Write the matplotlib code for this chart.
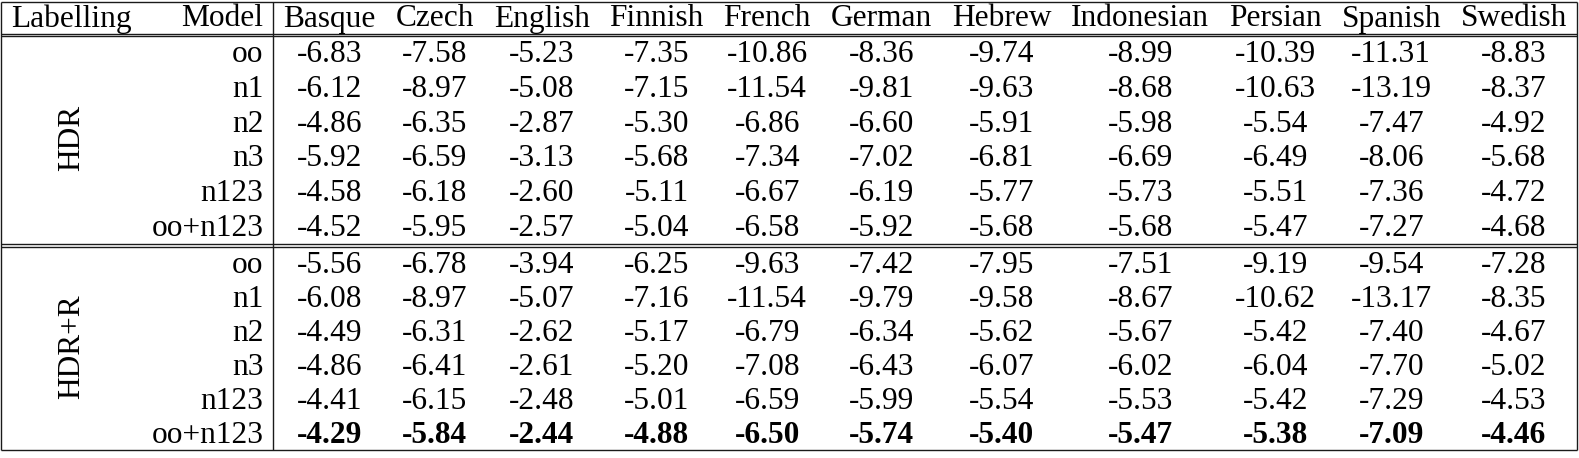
import matplotlib
matplotlib.use('Agg')
import matplotlib.pyplot as plt

# table content
languages = ['Basque', 'Czech', 'English', 'Finnish', 'French', 'German',
             'Hebrew', 'Indonesian', 'Persian', 'Spanish', 'Swedish']
models = ['oo', 'n1', 'n2', 'n3', 'n123', 'oo+n123']
labellings = ['HDR', 'HDR+R']

hdr_scores = [
    [-6.83, -7.58, -5.23, -7.35, -10.86, -8.36, -9.74, -8.99, -10.39, -11.31, -8.83],
    [-6.12, -8.97, -5.08, -7.15, -11.54, -9.81, -9.63, -8.68, -10.63, -13.19, -8.37],
    [-4.86, -6.35, -2.87, -5.30, -6.86, -6.60, -5.91, -5.98, -5.54, -7.47, -4.92],
    [-5.92, -6.59, -3.13, -5.68, -7.34, -7.02, -6.81, -6.69, -6.49, -8.06, -5.68],
    [-4.58, -6.18, -2.60, -5.11, -6.67, -6.19, -5.77, -5.73, -5.51, -7.36, -4.72],
    [-4.52, -5.95, -2.57, -5.04, -6.58, -5.92, -5.68, -5.68, -5.47, -7.27, -4.68],
]
hdr_r_scores = [
    [-5.56, -6.78, -3.94, -6.25, -9.63, -7.42, -7.95, -7.51, -9.19, -9.54, -7.28],
    [-6.08, -8.97, -5.07, -7.16, -11.54, -9.79, -9.58, -8.67, -10.62, -13.17, -8.35],
    [-4.49, -6.31, -2.62, -5.17, -6.79, -6.34, -5.62, -5.67, -5.42, -7.40, -4.67],
    [-4.86, -6.41, -2.61, -5.20, -7.08, -6.43, -6.07, -6.02, -6.04, -7.70, -5.02],
    [-4.41, -6.15, -2.48, -5.01, -6.59, -5.99, -5.54, -5.53, -5.42, -7.29, -4.53],
    [-4.29, -5.84, -2.44, -4.88, -6.50, -5.74, -5.40, -5.47, -5.38, -7.09, -4.46],
]
group_scores = [hdr_scores, hdr_r_scores]

W, H = 1579, 458
FONT = 'Liberation Serif'
FS = 22.6
LINE_C = '#1a1a1a'
LW = 1.0

fig = plt.figure(figsize=(W / 100, H / 100), dpi=100)
ax = fig.add_axes([0, 0, 1, 1])
ax.set_xlim(0, W)
ax.set_ylim(H, 0)
ax.axis('off')
renderer = fig.canvas.get_renderer()


def text_width(s, weight='normal'):
    t = ax.text(0, 0, s, fontsize=FS, family=FONT, weight=weight)
    w = t.get_window_extent(renderer).width
    t.remove()
    return w


# best score per language gets bold
best = [max(g[r][c] for g in group_scores for r in range(len(models)))
        for c in range(len(languages))]

# natural column widths (like a LaTeX tabular)
widths = [text_width('Labelling'),
          max(text_width(m) for m in models + ['Model'])]
for c, lang in enumerate(languages):
    cell_w = [text_width(f'{g[r][c]:.2f}', 'bold') for g in group_scores
              for r in range(len(models))]
    widths.append(max([text_width(lang)] + cell_w))

x_left, x_right = 1.0, 1577.0
pad = (x_right - x_left - sum(widths)) / (2 * len(widths))
edges = [x_left]
for w in widths:
    edges.append(edges[-1] + w + 2 * pad)

# horizontal rules
y_top, y_bottom = 2.0, 450.0
head_rules = (33.5, 36.0)
group_rules = (243.8, 246.5)
for y in (y_top, y_bottom) + head_rules + group_rules:
    ax.plot([x_left, x_right], [y, y], color=LINE_C, lw=LW, solid_capstyle='butt')
for x in (x_left, edges[2], x_right):
    ax.plot([x, x], [y_top, y_bottom], color=LINE_C, lw=LW, solid_capstyle='butt')

# header
hy = 26.5
ax.text(edges[0] + pad, hy, 'Labelling', fontsize=FS, family=FONT, ha='left', va='baseline')
ax.text(edges[2] - pad, hy, 'Model', fontsize=FS, family=FONT, ha='right', va='baseline')
centers = [(edges[i] + edges[i + 1]) / 2 for i in range(len(edges) - 1)]
for c, lang in enumerate(languages):
    ax.text(centers[c + 2], hy, lang, fontsize=FS, family=FONT, ha='center', va='baseline')

# body
group_spans = [(head_rules[1], group_rules[0]), (group_rules[1], y_bottom)]
for g, (label, scores) in enumerate(zip(labellings, group_scores)):
    top, bot = group_spans[g]
    row_h = (bot - top) / len(models)
    ax.text(centers[0], (top + bot) / 2 - 2, label, fontsize=FS, family=FONT,
            rotation=90, ha='center', va='center')
    for r, model in enumerate(models):
        by = top + 26.5 + r * row_h
        ax.text(edges[2] - pad, by, model, fontsize=FS, family=FONT, ha='right', va='baseline')
        for c in range(len(languages)):
            v = scores[r][c]
            ax.text(centers[c + 2], by, f'{v:.2f}', fontsize=FS, family=FONT,
                    weight='bold' if v == best[c] else 'normal',
                    ha='center', va='baseline')

fig.savefig('out.png', dpi=100, facecolor='white')
